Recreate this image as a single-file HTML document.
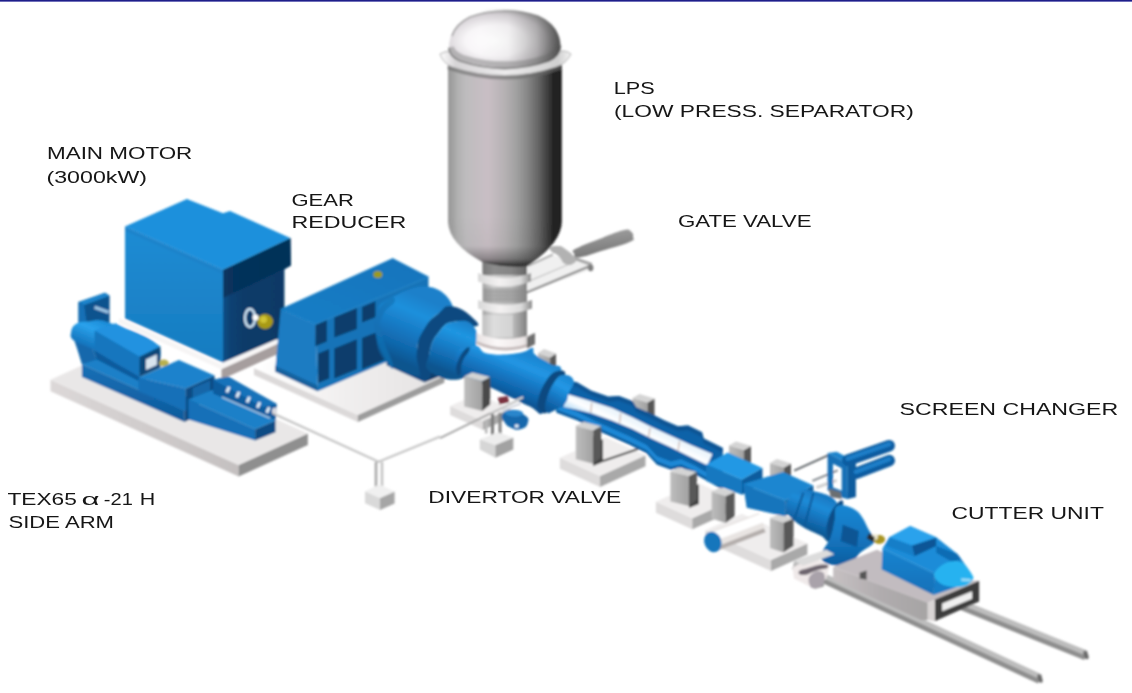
<!DOCTYPE html>
<html lang="en">
<head>
<meta charset="utf-8">
<title>Extruder line layout</title>
<style>
html,body{margin:0;padding:0;background:#fff;}
body{width:1132px;height:693px;overflow:hidden;position:relative;font-family:"Liberation Sans",sans-serif;}
#topline{position:absolute;left:0;top:0;width:1132px;height:2px;background:linear-gradient(#0a0a78,#3a3aa0 60%,#c8c8e6);}
svg{position:absolute;left:0;top:0;}
svg text{font-family:"Liberation Sans",sans-serif;font-size:17.4px;fill:#141414;}
</style>
</head>
<body>
<div id="topline"></div>
<svg width="1132" height="693" viewBox="0 0 1132 693">
<defs>
<filter id="soft" x="-5%" y="-5%" width="110%" height="110%"><feGaussianBlur stdDeviation="0.9"/></filter>
<filter id="tsoft" x="-5%" y="-20%" width="110%" height="140%"><feGaussianBlur stdDeviation="0.35"/></filter>
<linearGradient id="gTank" x1="0" y1="0" x2="1" y2="0">
<stop offset="0" stop-color="#989898"/><stop offset="0.05" stop-color="#a4a4a4"/><stop offset="0.08" stop-color="#b0b0b0"/><stop offset="0.16" stop-color="#bebcbe"/>
<stop offset="0.35" stop-color="#c9bfc5"/><stop offset="0.5" stop-color="#b5b1b3"/><stop offset="0.6" stop-color="#a1a1a1"/><stop offset="0.7" stop-color="#868686"/>
<stop offset="0.8" stop-color="#626262"/><stop offset="0.88" stop-color="#3c3c3c"/><stop offset="0.93" stop-color="#222222"/><stop offset="1" stop-color="#1e1e1e"/>
</linearGradient>
<linearGradient id="gTaper" x1="0" y1="0" x2="0" y2="1">
<stop offset="0" stop-color="#000" stop-opacity="0"/><stop offset="0.6" stop-color="#000" stop-opacity="0.03"/><stop offset="0.85" stop-color="#000" stop-opacity="0.3"/><stop offset="1" stop-color="#000" stop-opacity="0.75"/>
</linearGradient>
<radialGradient id="gDome" cx="0.42" cy="0.52" r="0.6"><stop offset="0" stop-color="#ffffff"/><stop offset="0.45" stop-color="#f8f6f8"/><stop offset="0.75" stop-color="#d8d4d8"/><stop offset="1" stop-color="#8e8e8e"/></radialGradient>
<linearGradient id="gNeck" x1="0" y1="0" x2="1" y2="0"><stop offset="0" stop-color="#a4a4a4"/><stop offset="0.25" stop-color="#d0d0d0"/><stop offset="0.65" stop-color="#c0c0c0"/><stop offset="1" stop-color="#808080"/></linearGradient>
<linearGradient id="gRing" x1="0" y1="0" x2="1" y2="0">
<stop offset="0" stop-color="#d8d8d8"/><stop offset="0.4" stop-color="#f4f2f2"/><stop offset="0.8" stop-color="#dcdcdc"/><stop offset="1" stop-color="#8c8c8c"/>
</linearGradient>
<linearGradient id="gSlabL" x1="0" y1="0" x2="1" y2="0"><stop offset="0" stop-color="#dcd8d8"/><stop offset="1" stop-color="#c4c0c0"/></linearGradient>
<linearGradient id="gSlabT" x1="0" y1="0" x2="1" y2="0"><stop offset="0" stop-color="#ffffff"/><stop offset="0.5" stop-color="#f0eeee"/><stop offset="1" stop-color="#e4e2e2"/></linearGradient>
<linearGradient id="gMotL" x1="0" y1="0" x2="0" y2="1"><stop offset="0" stop-color="#1d8cd4"/><stop offset="1" stop-color="#187cc0"/></linearGradient>
<linearGradient id="gMotR" x1="0" y1="0" x2="1" y2="0"><stop offset="0" stop-color="#0e4f88"/><stop offset="0.1" stop-color="#0a4274"/><stop offset="0.3" stop-color="#083b69"/><stop offset="1" stop-color="#083965"/></linearGradient>
<linearGradient id="gDomeR" x1="0" y1="0" x2="1" y2="0"><stop offset="0" stop-color="#666" stop-opacity="0"/><stop offset="0.35" stop-color="#666" stop-opacity="0.06"/><stop offset="0.7" stop-color="#606060" stop-opacity="0.38"/><stop offset="1" stop-color="#484848" stop-opacity="0.9"/></linearGradient>
<linearGradient id="gGearT" x1="0" y1="1" x2="1" y2="0"><stop offset="0" stop-color="#1a7ec6"/><stop offset="1" stop-color="#1774bc"/></linearGradient>
<linearGradient id="gHous" gradientUnits="userSpaceOnUse" x1="405" y1="290" x2="378" y2="352"><stop offset="0" stop-color="#1a80ca"/><stop offset="0.25" stop-color="#1f90dc"/><stop offset="0.55" stop-color="#1678c2"/><stop offset="0.8" stop-color="#1066aa"/><stop offset="1" stop-color="#0c548e"/></linearGradient>
<linearGradient id="gCyl2" gradientUnits="userSpaceOnUse" x1="466" y1="322" x2="446" y2="372"><stop offset="0" stop-color="#1a80ca"/><stop offset="0.25" stop-color="#2096e2"/><stop offset="0.55" stop-color="#177cc6"/><stop offset="0.8" stop-color="#1066aa"/><stop offset="1" stop-color="#0c548e"/></linearGradient>
<linearGradient id="gCylA" x1="0" y1="0" x2="0" y2="1"><stop offset="0" stop-color="#1579c4"/><stop offset="0.22" stop-color="#27a2ee"/><stop offset="0.5" stop-color="#1b8cd8"/><stop offset="0.8" stop-color="#1270b6"/><stop offset="1" stop-color="#0b518c"/></linearGradient>
<linearGradient id="gTv" x1="0" y1="0" x2="1" y2="0"><stop offset="0" stop-color="#1a86d2"/><stop offset="0.4" stop-color="#239cea"/><stop offset="1" stop-color="#1270b6"/></linearGradient>
<linearGradient id="gFrame" x1="0" y1="0" x2="0" y2="1"><stop offset="0" stop-color="#0c5696"/><stop offset="0.25" stop-color="#1273ba"/><stop offset="0.3" stop-color="#0e5fa2"/><stop offset="0.7" stop-color="#1480cc"/><stop offset="0.85" stop-color="#1e92de"/><stop offset="1" stop-color="#0d5a9c"/></linearGradient>
<linearGradient id="gWhite" x1="0" y1="0" x2="0" y2="1"><stop offset="0" stop-color="#e8f2fa"/><stop offset="0.4" stop-color="#ffffff"/><stop offset="1" stop-color="#cfe2f2"/></linearGradient>
<linearGradient id="gStandF" x1="0" y1="0" x2="1" y2="0"><stop offset="0" stop-color="#bdbdbd"/><stop offset="1" stop-color="#a2a2a2"/></linearGradient>
<linearGradient id="gWhiteCyl" x1="0" y1="0" x2="0" y2="1"><stop offset="0" stop-color="#ffffff"/><stop offset="1" stop-color="#c8c4c4"/></linearGradient>
<linearGradient id="gDie" x1="0" y1="0" x2="0" y2="1"><stop offset="0" stop-color="#1a86d2"/><stop offset="0.5" stop-color="#1478c2"/><stop offset="1" stop-color="#0e5c9e"/></linearGradient>
<linearGradient id="gCartL" x1="0" y1="0" x2="1" y2="0"><stop offset="0" stop-color="#c6c0c2"/><stop offset="0.5" stop-color="#b0acae"/><stop offset="1" stop-color="#a6a4a4"/></linearGradient>
<linearGradient id="gCutL" x1="0" y1="0" x2="0" y2="1"><stop offset="0" stop-color="#1a84d0"/><stop offset="1" stop-color="#1470b8"/></linearGradient>
<linearGradient id="gWhiteB" gradientUnits="userSpaceOnUse" x1="640" y1="425" x2="634" y2="438"><stop offset="0" stop-color="#eef6fc"/><stop offset="0.45" stop-color="#ffffff"/><stop offset="1" stop-color="#bfe0f8"/></linearGradient>
<linearGradient id="gSaBase" x1="0" y1="0" x2="0" y2="1"><stop offset="0" stop-color="#1670b6"/><stop offset="1" stop-color="#0f5a9c"/></linearGradient>
<linearGradient id="gSaCyl" gradientUnits="userSpaceOnUse" x1="118" y1="328" x2="106" y2="356"><stop offset="0" stop-color="#1c8cd8"/><stop offset="0.35" stop-color="#2aa2ec"/><stop offset="1" stop-color="#1270b8"/></linearGradient>
<linearGradient id="gTbody" gradientUnits="userSpaceOnUse" x1="520" y1="352" x2="502" y2="396"><stop offset="0" stop-color="#1c86d2"/><stop offset="0.25" stop-color="#2296e4"/><stop offset="0.55" stop-color="#1678c4"/><stop offset="0.8" stop-color="#0f62a8"/><stop offset="1" stop-color="#0b4f8c"/></linearGradient>
<linearGradient id="gShort" gradientUnits="userSpaceOnUse" x1="570" y1="378" x2="552" y2="410"><stop offset="0" stop-color="#1c86d2"/><stop offset="0.3" stop-color="#2298e6"/><stop offset="0.7" stop-color="#1572bc"/><stop offset="1" stop-color="#0e5a9c"/></linearGradient>
<linearGradient id="gDieCyl" gradientUnits="userSpaceOnUse" x1="815" y1="492" x2="800" y2="528"><stop offset="0" stop-color="#1878c2"/><stop offset="0.3" stop-color="#1e8cd8"/><stop offset="0.65" stop-color="#1470b8"/><stop offset="1" stop-color="#0c548e"/></linearGradient>
<linearGradient id="gFl3" x1="0" y1="0" x2="1" y2="0"><stop offset="0" stop-color="#e8e2e2"/><stop offset="0.35" stop-color="#fbf8f8"/><stop offset="0.8" stop-color="#eee8e8"/><stop offset="1" stop-color="#9a9a9a"/></linearGradient>
<linearGradient id="gRim" x1="0" y1="0" x2="1" y2="0"><stop offset="0" stop-color="#ffffff"/><stop offset="0.12" stop-color="#d6d4d6"/><stop offset="0.5" stop-color="#ecebec"/><stop offset="0.9" stop-color="#d0d0d0"/><stop offset="1" stop-color="#f4f4f4"/></linearGradient>
<linearGradient id="gGrip" x1="0" y1="0" x2="0.3" y2="1"><stop offset="0" stop-color="#a6a6a6"/><stop offset="0.5" stop-color="#8e8e8e"/><stop offset="1" stop-color="#767676"/></linearGradient>

</defs>
<g id="art" filter="url(#soft)">
<!-- slabs -->
<polygon points="50.5,391.2 238.6,476.5 238.6,465 50.5,379.7" fill="url(#gSlabL)"/>
<polygon points="238.6,476.5 307.8,445.1 307.8,433.6 238.6,465" fill="#8f8f8f"/>
<polygon points="50.5,379.7 238.6,465 307.8,433.6 119.8,348.3" fill="#e9e7e7"/>
<polygon points="119,318 221.5,364.5 221.5,369.5 119,323" fill="#f6f4f4"/>
<polygon points="221.5,369 279,343 279,353.5 221.5,379.5" fill="#a69e9e"/>
<polygon points="221.5,363 277,338 279,343 221.5,369" fill="#f8f6f6"/>
<polygon points="254,374.9 357.8,422 357.8,415 254,367.9" fill="#dcd9d9"/>
<polygon points="357.8,422 444.3,382.8 444.3,375.8 357.8,415" fill="#9c9c9c"/>
<polygon points="254,367.9 357.8,415 444.3,375.8 340.5,328.7" fill="url(#gSlabT)"/>
<!-- main motor -->
<polygon points="125,226.5 223,269.8 223,362.5 125,318.5" fill="url(#gMotL)"/>
<polygon points="223,269.8 290.5,238 291,265.6 284.4,269.5 284.4,338 276,339.5 223,362.5" fill="url(#gMotR)"/>
<polygon points="223,269.8 290.5,238 291,265.6 223,298" fill="#062f56" opacity="0.8"/>
<polygon points="125,226.5 186.9,199.1 223,213.3 230,211 290.3,238 223,269.8" fill="#1b90dc"/>
<polygon points="125,226.5 223,269.8 223,274 125,231" fill="#1a7ec4" opacity="0.55"/>
<ellipse cx="250" cy="318" rx="5" ry="9" fill="none" stroke="#cfe4f4" stroke-width="2.4"/>
<ellipse cx="265" cy="321.5" rx="8" ry="7.5" fill="#a89a18"/>
<ellipse cx="263.5" cy="319.5" rx="3.5" ry="3.5" fill="#d0c434"/>
<ellipse cx="255.5" cy="317.5" rx="3" ry="3" fill="#ffffff"/>
<!-- side arm -->
<polygon points="78.5,301.9 105,292.7 109.6,295.7 109.6,323.8 87.7,330.3 78.5,325.7" fill="#0e528e"/>
<polygon points="78.5,301.9 105,292.7 109.6,295.7 84.2,304.9" fill="#1b84cc"/>
<polygon points="78.5,301.9 84.2,304.9 87.7,330.3 78.5,325.7" fill="#1470b6"/>
<polyline points="94.6,307.2 108.5,312.3" fill="none" stroke="#9cc4e4" stroke-width="3.2"/>
<polygon points="81.9,364.2 96.9,357.3 198.5,402.3 184.6,410.4" fill="#1a80c8"/>
<polygon points="81.9,364.2 184.6,410.4 184.6,421.9 81.9,376.9" fill="url(#gSaBase)"/>
<polygon points="184.6,410.4 198.5,402.3 198.5,415 184.6,421.9" fill="#0c4a80"/>
<polygon points="92.3,348.1 139.6,372.3 139.6,381.5 96.9,359.6" fill="#0f5a9c"/>
<polygon points="73.8,338.9 92.3,348.1 96.9,359.6 81.9,364.2 77.3,349.2" fill="#1268ac"/>
<path d="M76.2 323.8 C79.5 321.8 81 321.8 87.7 321.5 C94.4 321.3 95.3 317.6 109.6 322.7 C123.9 327.8 153.2 337 159.2 346.9 C165.2 356.9 153 371.9 139.6 372.3 C126.2 372.8 105.5 355.6 92.3 349.2 C79.2 342.9 78.1 343.9 73.8 340.5 C69.6 337 70.6 335.3 71.1 331.9 C71.5 328.6 72.8 325.9 76.2 323.8 Z" fill="url(#gSaCyl)"/>
<polygon points="94.6,330.3 139.6,356.6 139.6,376.9 94.6,350.4" fill="#1676be"/>
<polygon points="139.6,356.6 160.4,346.2 160.4,367.7 139.6,376.9" fill="#0c4678"/>
<polygon points="94.6,330.3 115.4,323.2 160.4,346.2 139.6,356.6" fill="#2092e0"/>
<polygon points="145.9,359.6 156.9,354.3 156.9,364.9 145.9,370" fill="#d8e4ee"/>
<ellipse cx="163.9" cy="363.1" rx="5" ry="3.500" fill="#b8b050"/>
<polygon points="138.5,377.4 185.8,388.5 185.8,411.1 138.5,391.2" fill="#1470b8"/>
<polygon points="185.8,388.5 214.6,375.5 214.6,395.4 185.8,411.1" fill="#0d4c84"/>
<polygon points="138.5,377.4 178.9,360.1 214.6,375.5 185.8,388.5" fill="#1a82cc"/>
<polygon points="192.7,388 210,380.6 210,393.1 192.7,401.2" fill="#1466a8"/>
<polygon points="188.4,399.6 255.2,429.3 255.2,440.6 188.4,419.4" fill="#1470b8"/>
<polygon points="255.2,429.3 275.5,420.6 275.5,432.2 255.2,440.6" fill="#0d4c84"/>
<polygon points="188.4,399.6 213.1,389.7 275.5,420.6 255.2,429.3" fill="#1a80c8"/>
<polygon points="213.1,379.8 228.5,376.8 276.7,404 275.5,420.6 213.1,393.4" fill="#0f5c9e"/>
<polygon points="213.1,379.8 228.5,376.8 276.7,404 262.6,407" fill="#1672ba"/>
<rect x="226.5" y="386.7" width="3" height="6" fill="#e4f0fa" transform="rotate(24 228 389.7)"/>
<rect x="236.4" y="391.6" width="3" height="6" fill="#e4f0fa" transform="rotate(24 237.9 394.6)"/>
<rect x="246.8" y="396.6" width="3" height="6" fill="#e4f0fa" transform="rotate(24 248.3 399.6)"/>
<rect x="257.1" y="402" width="3" height="6" fill="#e4f0fa" transform="rotate(24 258.6 405)"/>
<rect x="266.5" y="407" width="3" height="6" fill="#e4f0fa" transform="rotate(24 268 410)"/>
<polyline points="221.8,397.1 270,418.1" fill="none" stroke="#dfeefa" stroke-width="1.3" opacity="0.8"/>
<ellipse cx="274.5" cy="410.7" rx="2.500" ry="3" fill="#d8d8e0"/>
<!-- gear reducer -->
<polygon points="280.8,309.2 315.4,324.2 317.7,391.2 275,371.5" fill="#1a7cc2"/>
<polygon points="315.4,324.2 428.5,276.9 428.5,336.9 385.8,362.3 317.7,391.2" fill="#1573b8"/>
<polygon points="315.4,324.9 326.9,320.1 326.9,341.5 315.4,346.2" fill="#0a3d6c"/>
<polygon points="334.3,317.3 356.9,308.1 356.9,328.9 334.3,337.4" fill="#0a3d6c"/>
<polygon points="362,306.9 375.4,301.2 375.4,317.3 362,322.4" fill="#0a3d6c"/>
<polygon points="318.2,353.5 329.2,348.9 329.2,378.5 318.2,383.1" fill="#0a3d6c"/>
<polygon points="334.3,348.5 356.9,339.2 356.9,369.2 334.3,378.5" fill="#0a3d6c"/>
<polygon points="362,338.1 384.6,328.9 384.6,360 362,369.2" fill="#0a3d6c"/>
<polygon points="280.8,309.2 392.7,258.5 428.5,276.9 315.4,324.2" fill="url(#gGearT)" stroke="#1b80c6" stroke-width="0.8"/>
<ellipse cx="377.8" cy="274.6" rx="4.5" ry="3.5" fill="#9a9a22"/>
<polygon points="275,365.8 317.7,385.4 317.7,391.2 275,371.5" fill="#14629e"/>
<!-- housing -->
<polygon points="386.6,357.9 424.6,375.1 424.6,382.5 386.6,365.3" fill="#0d4c84"/>
<polygon points="424.6,375.1 443,367.7 443,375.1 424.6,382.5" fill="#0a3d6c"/>
<path d="M389.1 299.1 C401.1 292.8 413.4 285.1 428.3 286.8 C443.2 288.5 450.5 300.1 452.8 306.4 C455.1 312.7 444.7 308.6 438.1 313.8 C431.5 318.9 429.5 320.5 424.6 328.5 C419.8 336.5 418.1 337.2 417.3 348.1 C416.4 359 428.1 371.9 420.9 375.1 C413.8 378.2 397.2 371.3 386.6 361.6 C376 351.9 377.9 344.6 375.6 333.4 C373.3 322.2 373.6 321.8 376.8 313.8 C379.9 305.8 377 305.4 389.1 299.1 Z" fill="url(#gHous)"/>
<path d="M389.1 299.1 C384.3 302.2 380.4 304.6 376.8 313.8 C373.2 322.9 372.9 320.6 375.6 333.4 C378.2 346.1 382 353.4 386.6 361.6 C391.2 369.8 394 371.6 392.7 364.1 C391.4 356.5 384.3 346.5 381.7 333.4 C379.1 320.3 379.5 323.4 382.9 315 C386.3 306.6 392.8 306.3 394.5 302 C396.1 297.7 393.8 295.9 389.1 299.1 Z" fill="#1270b4" opacity="0.7"/>
<path d="M452.8 306.4 C462.6 308 469.3 314.5 474.9 319.9 C480.5 325.3 478.9 326.1 473.7 326.5 C468.4 327 464.4 320.3 455.3 321.6 C446.1 322.9 446.2 323.1 439.3 331.4 C432.5 339.8 431.7 342 429.5 353 C427.4 364 432.6 365.4 431.2 372.6 C429.9 379.8 427.9 381.2 424.6 380 C421.4 378.8 420.9 376.7 419 368.2 C417 359.7 415.8 358.7 417.3 348.1 C418.8 337.5 419.1 337.6 424.6 328.5 C430.2 319.3 430.6 319.7 438.1 313.8 C445.6 307.9 443 304.8 452.8 306.4 Z" fill="#0c4a80"/>
<path d="M439.3 331.4 C446.2 323.1 446.1 322.9 455.3 321.6 C464.4 320.3 468.3 319.5 473.7 326.5 C479 333.6 476.9 339.7 475.4 348.1 C473.9 356.5 471.2 349.9 468 357.9 C464.8 365.9 473.2 374.1 463.4 378 C453.6 382 440.3 379.3 431.2 372.6 C422.2 366 427.4 364 429.5 353 C431.7 342 432.5 339.8 439.3 331.4 Z" fill="url(#gCyl2)"/>
<!-- gate valve handle -->
<polygon points="526.8,268 552.9,255.2 591.7,265.3 589.8,270 526.8,292.7" fill="#f0f0f0"/>
<polyline points="524.1,293.5 589.8,266.1" fill="none" stroke="#8e8e8e" stroke-width="2.4"/>
<polyline points="531,280.4 574.8,261.7" fill="none" stroke="#c4c4c4" stroke-width="1.2"/>
<polyline points="527.7,266.1 552.9,254.6" fill="none" stroke="#a8a8a8" stroke-width="2"/>
<polyline points="552.3,250.8 591.7,264.5" fill="none" stroke="#a6a6a6" stroke-width="3.2"/>
<ellipse cx="590.6" cy="267.8" rx="2.800" ry="3.500" fill="#7e7e7e"/>
<path d="M576.1 248.6 C582.7 245 591.1 242.2 602.1 237.9 C613.2 233.6 616.8 231.7 623.5 230.3 C630.2 228.8 628.7 230 630.9 231.6 C633.1 233.2 633.4 234.7 633.1 237.1 C632.8 239.5 636.7 238.8 629.5 242 C622.3 245.2 614 247.2 602.1 250.8 C590.3 254.4 585.4 256.7 578.9 257.4 C572.4 258 574.9 255.6 574.2 253.5 C573.6 251.5 569.6 252.2 576.1 248.6 Z" fill="url(#gGrip)"/>
<path d="M549.6 248.9 C549.2 246.3 552.8 246.1 557 246.1 C561.1 246.1 560.4 245.7 565.2 248.9 C569.9 252 572.6 254 574.8 257.9 C577 261.8 576 261.8 573.4 263.4 C570.8 265 569.2 266 565.2 263.9 C561.2 261.9 562.5 259.7 558.3 255.7 C554.2 251.7 549.9 251.4 549.6 248.9 Z" fill="#b2b2b2"/>
<!-- stands behind barrel -->
<polygon points="450.2,415.1 483,430 483,421 450.2,406.1" fill="#dedcdc"/>
<polygon points="483,430 510.3,417.6 510.3,408.6 483,421" fill="#a9a9a9"/>
<polygon points="450.2,406.1 483,421 510.3,408.6 477.5,393.7" fill="#efeded"/>
<polygon points="559.9,468.8 600,487 600,476 559.9,457.8" fill="#dedcdc"/>
<polygon points="600,487 645.5,466.3 645.5,455.3 600,476" fill="#a9a9a9"/>
<polygon points="559.9,457.8 600,476 645.5,455.3 605.5,437.2" fill="#efeded"/>
<polygon points="655.9,512.8 692.3,529.3 692.3,518.3 655.9,501.8" fill="#dedcdc"/>
<polygon points="692.3,529.3 734.2,510.3 734.2,499.3 692.3,518.3" fill="#a9a9a9"/>
<polygon points="655.9,501.8 692.3,518.3 734.2,499.3 697.8,482.8" fill="#efeded"/>
<polygon points="705.4,541.3 771,571 771,560 705.4,530.3" fill="#dedcdc"/>
<polygon points="771,571 807.4,554.5 807.4,543.5 771,560" fill="#a9a9a9"/>
<polygon points="705.4,530.3 771,560 807.4,543.5 741.9,513.7" fill="#efeded"/>
<polygon points="538,353 550,357.5 550,377.5 538,373" fill="url(#gStandF)"/>
<polygon points="550,357.5 556,353.5 556,371 550,377.5" fill="#585858"/>
<polygon points="538,353 544,349 556,353.5 550,357.5" fill="#d4d4d4"/>
<polygon points="632.5,398 647.5,402.5 647.5,424.5 632.5,420" fill="url(#gStandF)"/>
<polygon points="647.5,402.5 654.5,398.5 654.5,418 647.5,424.5" fill="#555"/>
<polygon points="632.5,398 639.5,394 654.5,398.5 647.5,402.5" fill="#d4d4d4"/>
<polygon points="729,445.5 744,450 744,472 729,467.5" fill="url(#gStandF)"/>
<polygon points="744,450 751,446 751,465.5 744,472" fill="#555"/>
<polygon points="729,445.5 736,441.5 751,446 744,450" fill="#d4d4d4"/>
<polygon points="770,463 784,467.5 784,487.5 770,483" fill="url(#gStandF)"/>
<polygon points="784,467.5 791,463.5 791,481 784,487.5" fill="#555"/>
<polygon points="770,463 777,459 791,463.5 784,467.5" fill="#d4d4d4"/>
<polygon points="593,436 603,440 603,462 593,466" fill="#444"/>
<polyline points="603,461 638,449" fill="none" stroke="#4a4a4a" stroke-width="2.2"/>
<polygon points="689,481 699,485 699,504 689,508" fill="#444"/>
<!-- barrel frame -->
<polygon points="556.5,377.8 577.3,382.5 591.2,390.8 608.5,396.8 618.9,396 632.7,401.2 636.2,407.2 650,413.3 663.9,420.2 677.7,426.3 688.1,425.4 702,432.3 703.7,438.4 722.8,447.9 722.8,489.5 707.2,480.8 695.1,473.9 681.2,467.3 670.8,469.6 657,464.4 646.6,453.1 629.3,444.5 611.9,436.7 594.6,428.9 577.3,420.2 556.5,412.4" fill="#0f62a8"/>
<polygon points="556.5,404.3 577.3,412.1 594.6,420.7 611.9,428.5 629.3,436.3 646.6,445 657,456.2 670.8,461.4 681.2,459.2 695.1,465.8 707.2,472.7 722.8,481.3 722.8,489.5 707.2,480.8 695.1,473.9 681.2,467.3 670.8,469.6 657,464.4 646.6,453.1 629.3,444.5 611.9,436.7 594.6,428.9 577.3,420.2 556.5,412.4" fill="#1c88d6"/>
<polygon points="556.5,409.7 577.3,417.4 594.6,426.1 611.9,433.9 629.3,441.7 646.6,450.3 657,461.6 670.8,466.8 681.2,464.5 695.1,471.1 707.2,478.1 722.8,486.7 722.8,489.5 707.2,480.8 695.1,473.9 681.2,467.3 670.8,469.6 657,464.4 646.6,453.1 629.3,444.5 611.9,436.7 594.6,428.9 577.3,420.2 556.5,412.4" fill="#0e5a9c"/>
<polygon points="556.5,377.8 577.3,382.5 591.2,390.8 608.5,396.8 618.9,396 632.7,401.2 636.2,407.2 650,413.3 663.9,420.2 677.7,426.3 688.1,425.4 702,432.3 703.7,438.4 722.8,447.9 722.8,452.8 703.7,443.2 702,437.2 688.1,430.3 677.7,431.1 663.9,425.1 650,418.1 636.2,412.1 632.7,406 618.9,400.8 608.5,401.7 591.2,395.6 577.3,387.3 556.5,382.6" fill="#0c5494"/>
<polygon points="567.8,394.2 591.2,401.2 611.9,408.1 632.7,417.6 650,426.3 670.8,435.8 691.6,445.3 712.4,454 707.2,465.2 691.6,457.6 670.8,447.2 650,437.7 632.7,429 611.9,420.4 591.2,413.3 577.3,409.8 563.5,407.1" fill="url(#gWhiteB)"/>
<polyline points="591.7,402.9 590.8,412.4" fill="none" stroke="#b89a90" stroke-width="1.1" opacity="0.85"/>
<polyline points="620.6,413.3 619.7,422.8" fill="none" stroke="#b89a90" stroke-width="1.1" opacity="0.85"/>
<polyline points="650,428 648.7,436.7" fill="none" stroke="#b89a90" stroke-width="1.1" opacity="0.85"/>
<polyline points="679.5,441 678.1,450.5" fill="none" stroke="#b89a90" stroke-width="1.1" opacity="0.85"/>
<!-- T piece + barrel -->
<path d="M457.3 351.2 C458.9 347.3 462.7 349.4 466 348.6 C469.3 347.7 474.1 345.3 477.2 346 C480.4 346.7 480.5 351.5 485 352.9 C489.5 354.3 497.7 354.8 504.1 354.6 C510.4 354.5 518.4 353.2 523.1 352 C527.9 350.9 530.7 347.3 532.6 347.7 C534.6 348.1 531.9 351.9 534.9 354.6 C537.9 357.4 546.4 361.4 550.8 364.2 C555.2 366.9 562.4 363.3 561.2 371.3 C560.1 379.2 549.1 405.9 543.9 411.8 C538.7 417.7 538.7 410.6 530 406.6 C521.4 402.6 504.2 393.7 491.9 387.9 C479.7 382.1 462.2 378.1 456.5 371.9 C450.7 365.8 455.7 355.1 457.3 351.2 Z" fill="url(#gTbody)"/>
<path d="M466 348.6 C469 345.8 470.4 346.8 469.4 350.3 C468.5 353.8 464.9 355.2 462.5 361.6 C460.1 367.9 462 371.3 460.4 374 C458.8 376.8 457.1 375.5 456.5 371.9 C455.8 368.4 455.6 366.9 458.2 360.7 C460.7 354.5 463 351.3 466 348.6 Z" fill="#0c4a80"/>
<path d="M560.3 370.6 C564.4 369.8 566.2 372.6 565 375.1 C563.8 377.5 559.6 374.8 555.2 381 C550.7 387.1 547.9 394.1 546 401.4 C544.1 408.7 548.1 409.8 547 412.1 C545.9 414.4 543.4 413.8 541.3 411.3 C539.2 408.7 536.3 408.7 537.8 401 C539.3 393.4 542.5 385.6 547.7 378.5 C553 371.4 556.3 371.4 560.3 370.6 Z" fill="#0c4a80"/>
<path d="M555.2 381 C559.6 374.8 560.7 375.1 565 375.1 C569.3 375.1 572.8 376.8 573.7 381 C574.6 385.1 571 387.5 569 392.7 C567 398 568.8 399.1 565 403.5 C561.3 407.8 557.1 409.2 552.9 411.3 C548.7 413.3 548.6 414.4 547 412.1 C545.4 409.8 544.1 408.7 546 401.4 C547.9 394.1 550.7 387.1 555.2 381 Z" fill="url(#gShort)"/>
<!-- front uprights -->
<polygon points="464.2,376.4 482.2,380.9 482.2,410.9 464.2,406.4" fill="url(#gStandF)"/>
<polygon points="482.2,380.9 490.2,376.9 490.2,404.4 482.2,410.9" fill="#484848"/>
<polygon points="464.2,376.4 472.2,372.4 490.2,376.9 482.2,380.9" fill="#d4d4d4"/>
<polygon points="575.8,425.8 593.2,430.3 593.2,463.8 575.8,459.3" fill="url(#gStandF)"/>
<polygon points="593.2,430.3 601.2,426.3 601.2,457.3 593.2,463.8" fill="#585858"/>
<polygon points="575.8,425.8 583.8,421.8 601.2,426.3 593.2,430.3" fill="#d4d4d4"/>
<polygon points="670.4,471.6 688.9,476.1 688.9,506.1 670.4,501.6" fill="url(#gStandF)"/>
<polygon points="688.9,476.1 696.9,472.1 696.9,499.6 688.9,506.1" fill="#585858"/>
<polygon points="670.4,471.6 678.4,467.6 696.9,472.1 688.9,476.1" fill="#d4d4d4"/>
<!-- ===== LPS tank ===== -->
<g id="tank">
<rect x="482.5" y="255" width="44.5" height="90" fill="url(#gNeck)"/>
<rect x="482.5" y="258" width="44.5" height="17" fill="#4a4a4a" opacity="0.5"/>
<path d="M478 273 Q504.5 283 531 273 L531 281.5 Q504.5 291.5 478 281.5 Z" fill="url(#gRing)"/>
<rect x="483" y="288" width="43.5" height="15" fill="#8a8a8a" opacity="0.45"/>
<path d="M484 292 h42 M484 295.5 h42 M484 299 h42" stroke="#8a8a8a" stroke-width="0.9" opacity="0.7" fill="none"/>
<path d="M478 300 Q505 310 532 300 L532 308.5 Q505 318.500 478 308.5 Z" fill="url(#gRing)"/>
<rect x="483" y="315" width="30" height="22" fill="#ffffff" opacity="0.3"/>
<path d="M476.5 333 Q505.5 345 535 333 L535 344 Q505.5 357 476.5 344 Z" fill="url(#gFl3)"/>
<path d="M476.5 341 Q505.5 354 535 341 L535 344 Q505.5 357 476.5 344 Z" fill="#b9aeae" opacity="0.8"/>
<path d="M527 337.5 L535 333 L535 344 L527 348.5 Z" fill="#6e6e6e"/>
<path d="M448 58 L561.8 58 L561.8 222 Q561 244 527 266 L482.5 262 Q449 244 448 222 Z" fill="url(#gTank)"/>
<path d="M447.5 215 L561.5 215 L561.5 222 Q561 244 527 266 Q505 268 482.5 262 Q449 244 447.5 222 Z" fill="url(#gTaper)"/>
<path d="M440 54 Q446 50 452 52 L557 52 Q565 49 571 54 Q566 64 556 67 Q505 84 452 67 Q443 63 440 54 Z" fill="url(#gRim)" stroke="#a8a8a8" stroke-width="0.9"/>
<path d="M447.5 66 Q505 86 561.5 66 L561.5 69.5 Q505 89.5 447.5 69.5 Z" fill="#6a6a6a" opacity="0.6"/>
<path d="M449 48 Q449 26 470 17 Q504 5 538 16 Q560 26 560.5 46 Q560 56 549 61 Q505 76 460 61 Q449 56 449 48 Z" fill="url(#gDome)"/>
<path d="M451 47 Q452 53 462 57.5 Q505 71 547 57.5 Q557 53 558.5 45" fill="none" stroke="#8c8c8c" stroke-width="6" opacity="0.5"/><path d="M449 48 Q449 56 460 61 Q505 76 549 61 Q560 56 560.5 46" fill="none" stroke="#6e6e6e" stroke-width="1.8" opacity="0.8"/><path d="M452 36 Q456 24 470 17 Q504 5 538 16 Q554 23 558 36" fill="none" stroke="#8a8a8a" stroke-width="1.6" opacity="0.7"/>
<path d="M480 9.5 Q504 5 538 16 Q560 26 560.5 46 Q560 56 549 61 Q515 72 480 67 Z" fill="url(#gDomeR)"/>
</g>

<!-- screen changer area -->
<line x1="712.5" y1="541.8" x2="762" y2="522.8" stroke="#b4aeac" stroke-width="20"/>
<line x1="712.5" y1="539.5" x2="762" y2="520.5" stroke="#e8e4e2" stroke-width="16"/>
<line x1="712.5" y1="537" x2="762" y2="518" stroke="#ffffff" stroke-width="9"/>
<ellipse cx="712.5" cy="542" rx="8.500" ry="10.500" fill="#1576bc" transform="rotate(-20 712.5 541)"/>
<polygon points="711.6,491.4 725.6,495.9 725.6,522.9 711.6,518.4" fill="url(#gStandF)"/>
<polygon points="725.6,495.9 734.6,491.9 734.6,516.4 725.6,522.9" fill="#585858"/>
<polygon points="711.6,491.4 720.6,487.4 734.6,491.9 725.6,495.9" fill="#d4d4d4"/>
<polygon points="770,518 783.5,522.5 783.5,552.5 770,548" fill="url(#gStandF)"/>
<polygon points="783.5,522.5 793.5,518.5 793.5,546 783.5,552.5" fill="#585858"/>
<polygon points="770,518 780,514 793.5,518.5 783.5,522.5" fill="#d4d4d4"/>
<polygon points="706.2,464.4 742,479.5 742,494.7 706.2,481.1" fill="#1478c0"/>
<polygon points="742,479.5 762.5,468.1 762.5,482.8 742,494.7" fill="#0e5c9e"/>
<polygon points="706.2,464.4 727.9,452.5 762.5,468.1 742,479.5" fill="#2098e4"/>
<polygon points="743,483.9 785.3,500.5 785.3,516.3 746.7,507.7" fill="#1474bc"/>
<polygon points="785.3,500.5 813.4,485.4 813.4,495.8 785.3,516.3" fill="#0d5898"/>
<polygon points="743,483.9 783.1,472 813.4,485.4 785.3,500.5" fill="#1a86d0"/>
<polyline points="794.2,470.7 828.6,455.2" fill="none" stroke="#5e6468" stroke-width="2"/>
<polyline points="812.4,480.8 837.7,470.3" fill="none" stroke="#80868c" stroke-width="2"/>
<polyline points="816.5,487.5 836.7,480.4" fill="none" stroke="#d0d0d0" stroke-width="3"/>
<polygon points="827.6,453.1 836.7,451.7 855.9,461.8 847.8,463.8" fill="#1c84cc"/>
<polygon points="827.6,453.1 847.8,463.8 847.8,499 841.7,497.6 841.7,468.3 833,463.8 833,492.1 827.6,490.5" fill="#1470b6"/>
<polygon points="847.8,463.8 855.9,461.8 855.9,497 847.8,499" fill="#0f5c9e"/>
<polygon points="833,487.5 847.8,492.9 847.8,499 833,492.9" fill="#1470b6"/>
<line x1="847.8" y1="460.2" x2="889.2" y2="445.7" stroke="#0e5ca0" stroke-width="11.500" stroke-linecap="round"/>
<line x1="847.8" y1="458.7" x2="889.2" y2="444.2" stroke="#1a7ec8" stroke-width="4.500" stroke-linecap="round"/>
<line x1="855.9" y1="473.3" x2="889.2" y2="460.6" stroke="#0e5ca0" stroke-width="11.500" stroke-linecap="round"/>
<line x1="855.9" y1="471.8" x2="889.2" y2="459.1" stroke="#1a7ec8" stroke-width="4.500" stroke-linecap="round"/>
<polygon points="828.6,488.5 840.7,492.1 841.7,499 830.6,497" fill="#6a6e72"/>
<path d="M789.2 497.6 C791.4 493.8 792.8 493.5 797.3 492.1 C801.7 490.7 803.3 488.1 811.4 490.5 C819.5 492.9 833.8 494.5 837.7 504.2 C841.5 514 834 533.2 830.6 539.4 C827.2 545.6 826.6 538.2 820.5 535.4 C814.4 532.5 807.2 530.1 800.3 525.3 C793.4 520.4 788.4 516.6 786.2 511.1 C783.9 505.6 787 501.4 789.2 497.6 Z" fill="url(#gDieCyl)"/>
<polyline points="803.3,492.9 794.2,519.8" fill="none" stroke="#0e5898" stroke-width="2"/>
<polyline points="813.4,492.9 804.3,526.9" fill="none" stroke="#0e5898" stroke-width="2"/>
<path d="M837.7 503 C841.8 498.6 844 499.8 843.1 505.1 C842.2 510.3 836.6 513.3 834.2 522.8 C831.9 532.3 835.6 536.2 834.2 540.6 C832.8 545 830.8 544.4 829 539.4 C827.2 534.4 825.3 531.5 827.6 521.8 C829.9 512.1 833.5 507.5 837.7 503 Z" fill="#0c4e88"/>
<path d="M837.7 505.7 C842.1 503.7 850.5 506.1 856.9 511.1 C863.2 516.2 865.8 524.9 869.4 530.9 C873 536.9 876.9 536.6 875.1 541 C873.2 545.5 865.4 548.2 859.9 553.1 C854.4 558.1 855.5 564.4 847.8 565.7 C840.1 566.9 824.9 565.3 821.5 559.6 C818.1 553.9 828 544.7 830.6 537 C833.2 529.2 833.2 527.1 834.6 520.8 C836.1 514.5 833.2 507.6 837.7 505.7 Z" fill="url(#gDie)"/>
<polygon points="842.7,524.8 858.9,530.9 856.9,547.1 840.7,541" fill="#0d5494"/>
<ellipse cx="879.1" cy="539.4" rx="6" ry="4.500" fill="#a89420"/>
<ellipse cx="874.6" cy="536.9" rx="3.200" ry="3" fill="#f0ecd8"/>
<polygon points="869,533.3 875.1,537.4 873,542 866.6,538.2" fill="#2a2a2a"/>
<!-- rails + cart + cutter -->
<line x1="794" y1="564.7" x2="1040" y2="679.2" stroke="#8e8e8e" stroke-width="9.5"/>
<line x1="794" y1="561.9" x2="1040" y2="676.4" stroke="#bdbdbd" stroke-width="5"/>
<line x1="880" y1="572.2" x2="1086" y2="655.7" stroke="#8e8e8e" stroke-width="9.5"/>
<line x1="880" y1="569.4" x2="1086" y2="652.9" stroke="#bdbdbd" stroke-width="5"/>
<ellipse cx="1040" cy="678.500" rx="2.200" ry="4.500" fill="#6a6a6a" transform="rotate(-20 1040 678.5)"/>
<ellipse cx="1086" cy="655" rx="2.200" ry="4.500" fill="#6a6a6a" transform="rotate(-20 1086 655)"/>
<polygon points="792.7,567 814.6,557.7 829.7,565.8 826.2,578.5 814.6,588.9 793.9,578.5" fill="#efe9e9"/>
<polygon points="812.3,576.2 823.9,572.7 823.9,586.6 814.6,588.9" fill="#9a9a9a"/>
<polygon points="793.9,560.5 826.2,549.7 834.3,554.3 803.1,565.8" fill="#dcdcdc"/>
<path d="M798.8 571.8 C799.9 569.9 802.3 569.7 808.9 567.8 C815.4 565.9 818.3 564.6 823.3 564.6 C828.3 564.6 829.5 566.2 827.6 567.8 C825.7 569.4 822.2 568.8 816.1 570.7 C809.9 572.6 809.1 574.7 804.5 575 C799.9 575.3 797.6 573.8 798.8 571.8 Z" fill="#6e6670"/>
<path d="M811 574.7 C814.3 571.3 818.4 569.9 821.8 571.8 C825.3 573.8 825.6 577.6 824 581.9 C822.5 586.3 819.9 587.2 816.1 588 C812.2 588.8 810.9 588.4 809.6 584.8 C808.2 581.3 807.8 578.2 811 574.7 Z" fill="#a9a2aa"/>
<polyline points="839.2,579.4 918.5,610.8" fill="none" stroke="#f2f0f0" stroke-width="2.2"/>
<polygon points="833.1,567 877,549.7 941.7,579.7 978.6,580.8 934.7,599.8 927.8,602.8" fill="#c2bcc0"/>
<polygon points="833.1,567 927.8,602.8 927.8,620.1 920.9,620.1 833.1,579.7" fill="url(#gCartL)"/>
<polygon points="934.7,599.8 979.1,580.8 979.1,601.6 934.7,621.2" fill="#3e3e3e"/>
<polygon points="927.8,602.8 934.7,599.8 934.7,621.2 927.8,620.1" fill="#d8d4d4"/>
<polygon points="942.1,603.5 972.1,591.2 972.1,598.8 942.1,611.3" fill="#f0f0f0"/>
<polygon points="859.7,572.7 866.6,570.4 866.6,579.7 859.7,578.5" fill="#555"/>
<polygon points="882.5,548.5 934.5,573.6 933.6,594.9 881.6,569.6" fill="url(#gCutL)"/>
<polygon points="934.5,573.6 960.4,558 970.8,572.7 970.8,581.7 957,586.9 933.6,594.9" fill="#147cc6"/>
<polygon points="882.5,548.5 889.4,537.2 910.2,526 936.2,537.2 957,553.7 960.8,558.5 934.5,573.6" fill="#1a8cd8"/>
<polygon points="911.9,545.4 936.2,537.6 936.2,545.9 914.5,556.3" fill="#0c5496"/>
<polygon points="889.4,537.2 910.2,526 936.2,537.6 911.9,545.4" fill="#2aa2ec"/>
<polygon points="889.4,537.2 911.9,545.4 914.5,556.3 886,545.4" fill="#177ec8"/>
<polygon points="936.2,545.9 957,553.7 960.8,558.5 953.5,562.7 936.2,552.8" fill="#116cb4"/>
<path d="M937.1 569.3 C941.4 564.4 949.1 560.1 957 561 C964.8 561.8 967.5 568 970.8 572.7 C974.1 577.5 974.4 578.1 971.2 581.4 C967.9 584.7 964.6 586.8 957 586.9 C949.3 587 942.9 585.9 938.3 581.7 C933.6 577.6 932.7 574.1 937.1 569.3 Z" fill="#27b2f0"/>
<polygon points="961.3,578.3 970.8,579 970.8,581.4 961.3,581" fill="#9adcf8"/>
<!-- divertor valve + pipe -->
<polyline points="272.3,413 378.6,461.6 440,436.5" fill="none" stroke="#b4b4b4" stroke-width="2"/>
<polyline points="272.3,412.4 378.6,461 440,436" fill="none" stroke="#e2e2e2" stroke-width="0.9"/>
<polyline points="376,462 376,492" fill="none" stroke="#a8a8a8" stroke-width="2.6"/>
<polyline points="382,462 382,492" fill="none" stroke="#c4c4c4" stroke-width="2.6"/>
<polygon points="365,503.2 380,510 380,498 365,491.2" fill="#d9d9d9"/>
<polygon points="380,510 394.6,503.4 394.6,491.4 380,498" fill="#a6a6a6"/>
<polygon points="365,491.2 380,498 394.6,491.4 379.5,484.6" fill="#f0f0f0"/>
<polyline points="486.2,419.6 486.2,433.5" fill="none" stroke="#b8b8b8" stroke-width="2.6"/>
<polyline points="492.5,413.8 492.5,438.7" fill="none" stroke="#7c7c7c" stroke-width="3.2"/>
<polyline points="500,412.7 500,436.3" fill="none" stroke="#868686" stroke-width="3.2"/>
<polygon points="479.8,439.2 495.4,445 495.4,457.7 479.8,449.6" fill="#d6d6d6"/>
<polygon points="495.4,445 513.3,437.5 513.3,449.6 495.4,457.7" fill="#a2a2a2"/>
<polygon points="479.8,439.2 497.7,432.3 513.3,437.5 495.4,445" fill="#ededed"/>
<path d="M502.3 414.4 C504.2 411.4 505.5 410.7 511.5 411 C517.5 411.2 520.4 412.2 524.8 415.2 C529.2 418.3 528.8 418.8 527.9 422.5 C527 426.2 525.7 427.6 521.3 429.1 C517 430.5 516 429.8 511.5 427.9 C507.1 426.1 507.1 425.8 504.6 422.2 C502.2 418.6 500.5 417.4 502.3 414.4 Z" fill="#1868ac"/>
<path d="M504.6 412.7 C504.3 410.8 508.9 409.7 513.8 409.8 C518.8 410 522.8 411.4 523.1 413.3 C523.4 415.1 519.9 416.9 515 416.7 C510.1 416.6 504.9 414.5 504.6 412.7 Z" fill="#2a86cc"/>
<ellipse cx="516.7" cy="426" rx="2.200" ry="1.800" fill="#eaf4fc"/>
<polyline points="440,438.1 491.9,412.7 523.1,397.7" fill="none" stroke="#a6a6a6" stroke-width="1.9"/>
<polyline points="489.6,412.5 523.1,396.8" fill="none" stroke="#e4e4e4" stroke-width="1.4"/>
<polyline points="502.3,410.4 520.8,403.5" fill="none" stroke="#d0d4dc" stroke-width="2"/>
<polygon points="497.7,397.7 507.5,396 509.2,402.3 499.4,404.6" fill="#7a3040"/>

</g>
<g id="labels" filter="url(#tsoft)">
<text x="47" y="159.4" textLength="145.3" lengthAdjust="spacingAndGlyphs">MAIN MOTOR</text>
<text x="46.5" y="182.7" textLength="100.5" lengthAdjust="spacingAndGlyphs">(3000kW)</text>
<text x="291.5" y="205.6" textLength="62.4" lengthAdjust="spacingAndGlyphs">GEAR</text>
<text x="291.5" y="228.2" textLength="114.8" lengthAdjust="spacingAndGlyphs">REDUCER</text>
<text x="613.8" y="94" textLength="40.9" lengthAdjust="spacingAndGlyphs">LPS</text>
<text x="614" y="116.6" textLength="299.8" lengthAdjust="spacingAndGlyphs">(LOW PRESS. SEPARATOR)</text>
<text x="678" y="226.7" textLength="133.5" lengthAdjust="spacingAndGlyphs">GATE VALVE</text>
<text x="899.6" y="414.5" textLength="218.6" lengthAdjust="spacingAndGlyphs">SCREEN CHANGER</text>
<text x="951.6" y="518.7" textLength="152.3" lengthAdjust="spacingAndGlyphs">CUTTER UNIT</text>
<text x="428.3" y="503.4" textLength="193.0" lengthAdjust="spacingAndGlyphs">DIVERTOR VALVE</text>
<text y="504.7"><tspan x="7.4" textLength="69.5" lengthAdjust="spacingAndGlyphs">TEX65</tspan><tspan x="81.5" textLength="18" lengthAdjust="spacingAndGlyphs">α</tspan><tspan x="103.8" textLength="29" lengthAdjust="spacingAndGlyphs">-21</tspan><tspan x="139.8" textLength="15.5" lengthAdjust="spacingAndGlyphs">H</tspan></text>
<text x="8.5" y="528" textLength="105.5" lengthAdjust="spacingAndGlyphs">SIDE ARM</text>
</g>
</svg>
</body>
</html>
